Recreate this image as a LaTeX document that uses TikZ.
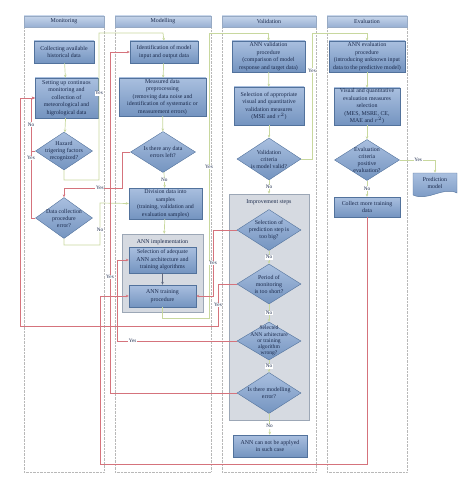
\documentclass[tikz,border=0pt]{standalone}
\usepackage{fontspec}
\setmainfont{Liberation Serif}
\usepackage{xcolor}
\usetikzlibrary{shapes.geometric,arrows.meta}

\definecolor{navy}{HTML}{1B2A4C}
\definecolor{boxtop}{HTML}{A9BFDF}
\definecolor{boxbot}{HTML}{7494C0}
\definecolor{boxline}{HTML}{52729C}
\definecolor{headtop}{HTML}{C6D5EA}
\definecolor{headbot}{HTML}{98B0D3}
\definecolor{grpfill}{HTML}{D6DAE1}
\definecolor{grpline}{HTML}{9CA7B6}
\definecolor{okline}{HTML}{C8D89E}
\definecolor{backline}{HTML}{D5737C}
\definecolor{colline}{HTML}{B8B8B8}

\begin{document}
\begin{tikzpicture}[x=1pt,y=-1pt,
    every node/.style={font=\fontsize{5.9}{7.5}\selectfont, text=navy},
    head/.style={rectangle, draw=boxline!60, top color=headtop, bottom color=headbot,
      minimum height=11pt, inner sep=0pt},
    proc/.style={rectangle, draw=boxline, top color=boxtop, bottom color=boxbot,
      align=center, inner sep=0pt},
    dec/.style={diamond, draw=boxline, top color=boxtop, bottom color=boxbot,
      align=center, inner sep=-14pt, font=\fontsize{5.9}{7}\selectfont},
    grp/.style={rectangle, draw=grpline, fill=grpfill, inner sep=0pt},
    yn/.style={fill=white, inner sep=0.7pt, font=\fontsize{5.2}{6}\selectfont},
    ok/.style={draw=okline, line width=0.7pt, -{Stealth[length=3pt,width=2.6pt]}},
    back/.style={draw=backline, line width=0.7pt, -{Stealth[length=3pt,width=2.6pt]}},
    dark/.style={draw=navy!70, line width=0.5pt, -{Stealth[length=3pt,width=2.6pt]}}]
  \useasboundingbox (0,0) rectangle (474,489);
  % columns and headers
  \foreach \xa/\xb in {24/104,115/211,222/316,327/407}
    \draw[colline, densely dotted] (\xa,27) rectangle (\xb,472);
  \node[head, minimum width=80pt] (hmon) at (64,21.5) {Monitoring};
  \node[head, minimum width=96pt] (hmod) at (163,21.5) {Modelling};
  \node[head, minimum width=94pt] (hval) at (269,21.5) {Validation};
  \node[head, minimum width=80pt] (heva) at (367,21.5) {Evaluation};
  % group boxes
  \node[grp, minimum width=81pt, minimum height=78pt,
        label={[anchor=north, yshift=-2.5pt]north:ANN implementation}] (impl) at (162.5,273) {};
  \node[grp, minimum width=80pt, minimum height=226pt,
        label={[anchor=north, yshift=-2.5pt]north:Improvement steps}] (impr) at (269,307) {};
  % monitoring
  \node[proc, minimum width=60pt, minimum height=22pt] (hist) at (64,52)
    {Collecting available\\historical data};
  \node[proc, minimum width=63pt, minimum height=40pt] (setup) at (66.5,98)
    {Setting up continuos\\monitoring and\\collection of\\meteorological and\\higrological data};
  \node[dec, minimum width=57pt, minimum height=38pt] (haz) at (64,151)
    {Hazard\\trigering factors\\recognized?};
  \node[dec, minimum width=57pt, minimum height=41pt] (dce) at (64,218)
    {Data collection\\procedure\\error?};
  % modelling
  \node[proc, minimum width=68pt, minimum height=22pt] (ident) at (164,52)
    {Identification of model\\input and output data};
  \node[proc, minimum width=87pt, minimum height=38pt] (prep) at (162.5,97)
    {Measured data\\preprocessing\\(removing data noise and\\identification of systematic or\\measurement errors)};
  \node[dec, minimum width=65pt, minimum height=41pt] (derr) at (163,152)
    {Is there any data\\errors left?};
  \node[proc, minimum width=73pt, minimum height=31pt] (div) at (165.5,203.5)
    {Division data into\\samples\\(training, validation and\\evaluation samples)};
  \node[proc, minimum width=67pt, minimum height=26pt] (sel) at (162.5,260)
    {Selection of adequate\\ANN architecture and\\training algorithms};
  \node[proc, minimum width=67pt, minimum height=22pt] (train) at (162.5,296)
    {ANN training\\procedure};
  % validation
  \node[proc, minimum width=73pt, minimum height=31pt] (valp) at (268.5,56.5)
    {ANN validation\\procedure\\(comparison of model\\response and target data)};
  \node[proc, minimum width=70pt, minimum height=38pt] (valm) at (269,106)
    {Selection of appropriate\\visual and quantitative\\validation measures\\(MSE and $r^2$)};
  \node[dec, minimum width=64pt, minimum height=42pt] (valc) at (269,159)
    {Validation\\criteria\\is model valid?};
  \node[dec, minimum width=64pt, minimum height=41pt] (step) at (269,230)
    {Selection of\\prediction step is\\too big?};
  \node[dec, minimum width=64pt, minimum height=40pt] (mon) at (269,284)
    {Period of\\monitoring\\is too short?};
  \node[dec, minimum width=64pt, minimum height=38pt,
        font=\fontsize{5.6}{6.3}\selectfont] (arch) at (269,341)
    {Selected\\ANN arhitecture\\or training\\algorithm\\wrong?};
  \node[dec, minimum width=64pt, minimum height=41pt] (merr) at (269,393)
    {Is there modelling\\error?};
  \node[proc, minimum width=74pt, minimum height=22pt] (cant) at (270,446)
    {ANN can not be applyed\\in such case};
  % evaluation
  \node[proc, minimum width=76pt, minimum height=31pt] (evp) at (367,56.5)
    {ANN evaluation\\procedure\\(introducing unknown input\\data to the predictive model)};
  \node[proc, minimum width=66pt, minimum height=37pt] (evm) at (367,106.5)
    {Visual and quantitative\\evaluation measures\\selection\\(MES, MSRE, CE,\\MAE and $r^2$)};
  \node[dec, minimum width=65pt, minimum height=41pt] (evc) at (367,160)
    {Evaluation\\criteria\\positive\\evaluation?};
  \node[proc, minimum width=66pt, minimum height=20pt] (coll) at (367,207)
    {Collect more training\\data};
  % prediction model (document shape)
  \path[draw=boxline, top color=boxtop, bottom color=boxbot]
    (413,173) -- (457,173) -- (457,193)
    .. controls (443,186) and (428,202) .. (413,195) -- cycle;
  \node[inner sep=0pt, minimum width=44pt, minimum height=20pt, align=center] (pred) at (435,183)
    {Prediction\\model};
  % forward connectors
  \draw[ok] (hist) -- (setup);
  \draw[ok] (setup) -- (haz);
  \draw[ok] (haz.south) -- (64,180) -- (99,180) -- node[yn, pos=0.59] {Yes} (99,33) -- (163,33) -- (ident.north);
  \draw[ok] (dce.south) -- (64,245) -- (100,245) -- node[yn, pos=0.36] {No} (100,203) -- (div.west);
  \draw[ok] (ident) -- (prep);
  \draw[ok] (prep) -- (derr);
  \draw[ok] (derr) -- node[yn] {No} (div);
  \draw[ok] (div) -- (impl);
  \draw[dark] (sel) -- (train);
  \draw[ok] (train.south) -- (162.5,318) -- (209,318) -- node[yn, pos=0.53] {Yes} (209,33) -- (268.5,33) -- (valp.north);
  \draw[ok] (valp) -- (valm);
  \draw[ok] (valm) -- (valc);
  \draw[ok] (valc) -- node[yn] {No} (impr);
  \draw[ok] (valc.east) -- (312,159) -- node[yn, pos=0.7] {Yes} (312,33) -- (367,33) -- (evp.north);
  \draw[ok] (step) -- node[yn] {No} (mon);
  \draw[ok] (mon) -- node[yn] {No} (arch);
  \draw[ok] (arch) -- node[yn] {No} (merr);
  \draw[ok] (merr) -- node[yn, pos=0.6] {No} (cant);
  \draw[ok] (evp) -- (evm);
  \draw[ok] (evm) -- (evc);
  \draw[ok] (evc) -- node[yn] {No} (coll);
  \draw[ok] (evc.east) -- node[yn, pos=0.52] {Yes} (435,160) -- (pred.north);
  % back connectors
  \draw[back] (dce.west) -- (31,218) -- node[yn, pos=0.5] {Yes} (31,98) -- (setup.west);
  \draw[back] (haz.west) -- (31,151) -- node[yn, pos=0.5] {No} (31,98) -- (setup.west);
  \draw[back] (derr.west) -- (122,152) -- (122,188) -- node[yn, pos=0.38] {Yes} (64,188) -- (dce.north);
  \draw[back] (mon.west) -- (218,284) -- node[yn] {Yes} (218,326) -- (20,326) -- (20,98) -- (setup.west);
  \draw[back] (step.west) -- (213,230) -- node[yn] {Yes} (213,296) -- (train.east);
  \draw[back] (arch.west) -- node[yn, pos=0.87] {Yes} (117,341) -- (117,260) -- (sel.west);
  \draw[back] (merr.west) -- (110,393) -- node[yn, pos=0.34] {Yes} (110,52) -- (ident.west);
  \draw[back] (coll.south) -- (367,464) -- (100,464) -- (100,296) -- (train.west);
\end{tikzpicture}
\end{document}
